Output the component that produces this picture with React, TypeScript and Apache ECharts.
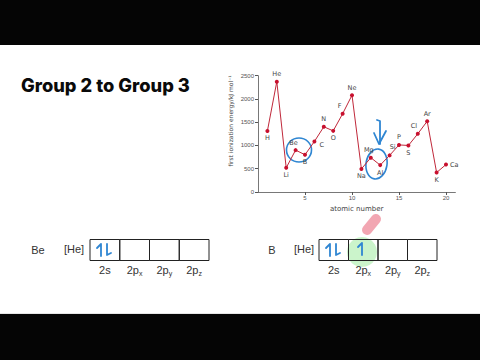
import React, { useEffect, useRef } from "react";
import * as echarts from "echarts";

const elements = ["H","He","Li","Be","B","C","N","O","F","Ne","Na","Mg","Al","Si","P","S","Cl","Ar","K","Ca"];
const atomicNumbers = [1,2,3,4,5,6,7,8,9,10,11,12,13,14,15,16,17,18,19,20];
const energies = [1312,2372,520,900,801,1086,1402,1314,1681,2081,496,738,578,787,1012,1000,1251,1521,419,590];
const xTicks = [5, 10, 15, 20];
const yTicks = [0, 500, 1000, 1500, 2000, 2500];
const orbitalLabels = ["2s", "2p", "2p", "2p"];
const orbitalSubs = ["", "x", "y", "z"];

const labelPlacement: Record<string, [string, number[]]> = {
  H: ["bottom", [0, 0]], He: ["top", [0, 0]], Li: ["bottom", [0, 0]], Be: ["top", [-2, 0]],
  B: ["bottom", [0, 0]], C: ["right", [1, 4]], N: ["top", [0, 0]], O: ["bottom", [0, 0]],
  F: ["top", [-3, 0]], Ne: ["top", [0, 0]], Na: ["bottom", [0, 0]], Mg: ["top", [-2, 0]],
  Al: ["bottom", [0, 0]], Si: ["top", [3, -1]], P: ["top", [0, 0]], S: ["bottom", [0, 0]],
  Cl: ["top", [-4, 0]], Ar: ["top", [0, 0]], K: ["bottom", [0, 0]], Ca: ["right", [0, 0]],
};

const BLUE = "#2f86d2";

function boxes(x0: number, y0: number, w: number, h: number, labelY: number) {
  const els: any[] = [];
  for (let i = 0; i < 4; i++) {
    els.push({ type: "rect", shape: { x: x0 + i * w, y: y0, width: w, height: h }, style: { fill: "none", stroke: "#222", lineWidth: 1 } });
    els.push({
      type: "text", x: x0 + i * w + w / 2, y: labelY,
      style: {
        text: orbitalSubs[i] ? `{a|${orbitalLabels[i]}}{s|${orbitalSubs[i]}}` : `{a|${orbitalLabels[i]}}`,
        align: "center", verticalAlign: "middle",
        rich: { a: { fontSize: 11, fill: "#333", fontFamily: "Liberation Sans" }, s: { fontSize: 7, fill: "#333", padding: [6, 0, 0, 0], fontFamily: "Liberation Sans" } },
      },
    });
  }
  return els;
}

function upArrow(x: number, y: number) {
  return [
    { type: "polyline", shape: { points: [[x - 4, y - 2], [x, y - 6], [x, y + 6]] }, style: { fill: "none", stroke: BLUE, lineWidth: 1.8, lineCap: "round", lineJoin: "round" } },
  ];
}
function downArrow(x: number, y: number) {
  return [
    { type: "polyline", shape: { points: [[x, y - 6], [x, y + 5], [x + 4, y + 3]] }, style: { fill: "none", stroke: BLUE, lineWidth: 1.8, lineCap: "round", lineJoin: "round" } },
  ];
}

export default function App() {
  const ref = useRef<HTMLDivElement>(null);
  useEffect(() => {
    const chart = echarts.init(ref.current!, undefined, { renderer: "svg" });
    const data = atomicNumbers.map((n, i) => {
      const [pos, off] = labelPlacement[elements[i]];
      return { value: [n, energies[i]], label: { position: pos, offset: off, formatter: elements[i] } };
    });
    chart.setOption({
      animation: false,
      backgroundColor: "#fff",
      grid: { left: 258, right: 480 - 455.4, top: 75.7, bottom: 168, outerBoundsMode: "none", containLabel: false },
      xAxis: {
        type: "value", min: 0, max: 21, interval: 5,
        name: "atomic number", nameLocation: "middle", nameGap: 13,
        nameTextStyle: { fontSize: 7, color: "#444", fontFamily: "DejaVu Sans" },
        axisLine: { lineStyle: { color: "#555", width: 0.8 } },
        axisTick: { length: 3, lineStyle: { color: "#555" } },
        axisLabel: { fontSize: 6, color: "#555", margin: 3, showMinLabel: false, showMaxLabel: false,
          formatter: (v: number) => (xTicks.includes(v) ? String(v) : "") },
        splitLine: { show: false },
      },
      yAxis: {
        type: "value", min: 0, max: 2500, interval: 500,
        axisLine: { show: true, lineStyle: { color: "#555", width: 0.8 } },
        axisTick: { show: true, length: 3, lineStyle: { color: "#555" } },
        axisLabel: { fontSize: 6, color: "#555", margin: 4, formatter: (v: number) => (yTicks.includes(v) ? String(v) : "") },
        splitLine: { show: false },
      },
      series: [{
        type: "line", data,
        lineStyle: { color: "#c0283a", width: 1 },
        itemStyle: { color: "#c8102e" },
        symbol: "circle", symbolSize: 4,
        label: { show: true, fontSize: 6.5, color: "#444", distance: 2, fontFamily: "DejaVu Sans" },
      }],
      graphic: [
        { type: "rect", shape: { x: 0, y: 0, width: 480, height: 45 }, style: { fill: "#050505" } },
        { type: "rect", shape: { x: 0, y: 313, width: 480, height: 1 }, style: { fill: "#e6e6e6" } },
        { type: "rect", shape: { x: 0, y: 314, width: 480, height: 46 }, style: { fill: "#050505" } },
        { type: "text", x: 21, y: 85, style: { text: "Group 2 to Group 3", fontSize: 18.3, fontWeight: 800, fontFamily: "Inter", fill: "#0a0a0a", verticalAlign: "middle" } },
        { type: "text", x: 230, y: 121, rotation: Math.PI / 2, style: { text: "first ionization energy/kJ mol⁻¹", fontSize: 6, fill: "#444", align: "center", verticalAlign: "middle", fontFamily: "DejaVu Sans" } },
        // annotations
        { type: "ellipse", shape: { cx: 299, cy: 150, rx: 12.5, ry: 12 }, style: { fill: "none", stroke: BLUE, lineWidth: 1.6 } },
        { type: "ellipse", x: 376.5, y: 164, rotation: -0.15, shape: { cx: 0, cy: 0, rx: 10.5, ry: 15 }, style: { fill: "none", stroke: BLUE, lineWidth: 1.6 } },
        { type: "polyline", shape: { points: [[377, 120], [380, 121], [380, 144]] }, style: { fill: "none", stroke: BLUE, lineWidth: 1.8, lineCap: "round", lineJoin: "round" } },
        { type: "polyline", shape: { points: [[374, 133], [379, 144], [386, 131]] }, style: { fill: "none", stroke: BLUE, lineWidth: 1.8, lineCap: "round", lineJoin: "round" } },
        { type: "circle", shape: { cx: 362, cy: 252, r: 15 }, style: { fill: "rgba(160,235,160,0.55)" } },
        { type: "line", shape: { x1: 367, y1: 230, x2: 376, y2: 219 }, style: { stroke: "rgba(240,150,165,0.85)", lineWidth: 10, lineCap: "round" } },
        // Be row
        { type: "text", x: 38, y: 250, style: { text: "Be", fontSize: 11, fill: "#333", align: "center", verticalAlign: "middle", fontFamily: "Liberation Sans" } },
        { type: "text", x: 74, y: 249, style: { text: "[He]", fontSize: 11, fill: "#333", align: "center", verticalAlign: "middle", fontFamily: "Liberation Sans" } },
        ...boxes(90, 239.5, 29.75, 21, 270),
        ...upArrow(101, 250), ...downArrow(107, 250),
        // B row
        { type: "text", x: 272, y: 250, style: { text: "B", fontSize: 11, fill: "#333", align: "center", verticalAlign: "middle", fontFamily: "Liberation Sans" } },
        { type: "text", x: 304, y: 249, style: { text: "[He]", fontSize: 11, fill: "#333", align: "center", verticalAlign: "middle", fontFamily: "Liberation Sans" } },
        ...boxes(319, 239.5, 29.5, 21, 270),
        ...upArrow(330, 250), ...downArrow(336, 250),
        ...upArrow(362, 249),
      ],
    });
    return () => chart.dispose();
  }, []);
  return <div ref={ref} style={{ width: 480, height: 360, position: "absolute", left: 0, top: 0 }} />;
}
